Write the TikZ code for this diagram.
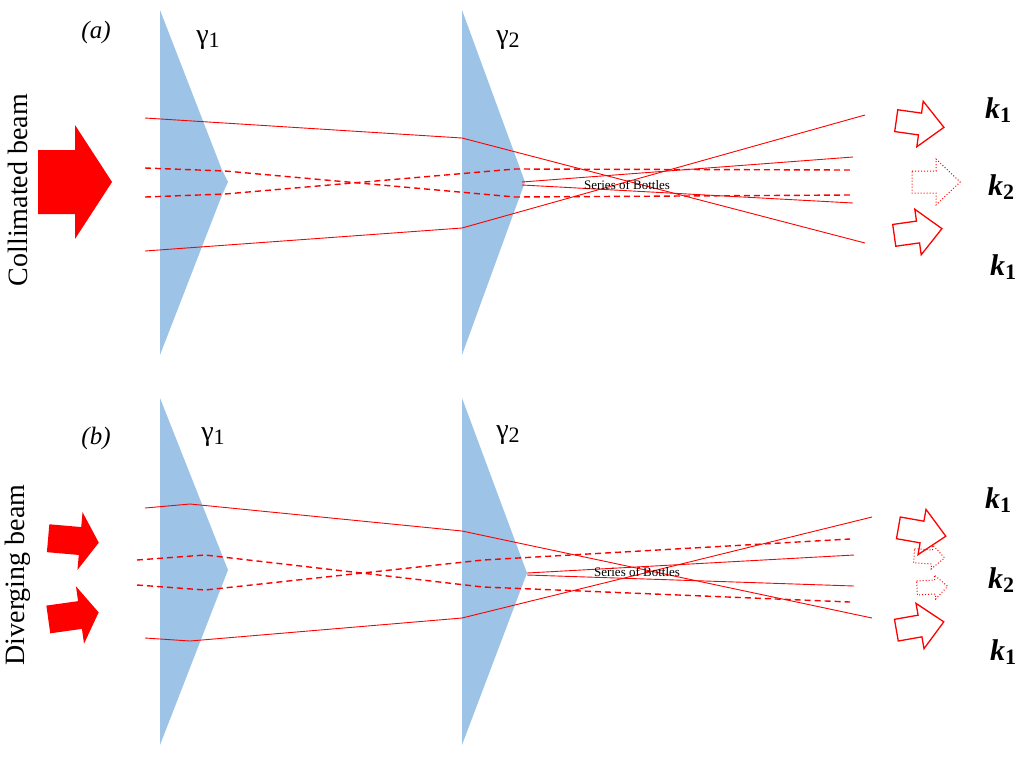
\documentclass[tikz,border=0pt]{standalone}
\usepackage{fontspec}
\setmainfont{Liberation Serif}
\definecolor{prism}{RGB}{157,195,230}
\newcommand\fillarrow[6]{% x y angle shaftlen shafthalf headhalf
  \begin{scope}[shift={(#1,#2)},rotate=#3]
  \fill[red] (-#4,-#5)--(0,-#5)--(0,-#6)--(#6*0.65,0)--(0,#6)--(0,#5)--(-#4,#5)--cycle;
  \end{scope}}
\newcommand\hollowarrow[7]{% x y angle shaftlen shafthalf headhalf style
  \begin{scope}[shift={(#1,#2)},rotate=#3]
  \draw[red,#7] (-#4,-#5)--(0,-#5)--(0,-#6)--(#6*1.05,0)--(0,#6)--(0,#5)--(-#4,#5)--cycle;
  \end{scope}}
\tikzset{ray/.style={red,line width=0.9pt},
  dray/.style={red,line width=1.4pt,dash pattern=on 6pt off 4pt},
  lbl/.style={font=\fontsize{28}{30}\selectfont,rotate=90},
  gam/.style={font=\fontsize{28}{30}\selectfont},
  kl/.style={font=\fontsize{30}{32}\selectfont\bfseries\itshape},
  sob/.style={font=\fontsize{13}{14}\selectfont}}
\newcommand\subn[1]{\raisebox{-0.3ex}{\fontsize{22}{24}\selectfont #1}}
\begin{document}
\begin{tikzpicture}[x=1pt,y=-1pt]
\useasboundingbox (0,0) rectangle (1016,756);
% panel a prisms
\fill[prism] (160,10)--(222,170)--(228,182)--(222,195)--(160,355)--cycle;
\fill[prism] (462,10)--(525,182)--(462,355)--cycle;
% panel b prisms
\fill[prism] (160,398)--(228,570)--(160,745)--cycle;
\fill[prism] (462,398)--(527,573)--(462,745)--cycle;
% rays a
\draw[ray] (145,118)--(462,138)--(865,243);
\draw[ray] (145,251)--(462,228)--(865,115);
\draw[ray] (522,182)--(853,157);
\draw[ray] (522,185)--(853,203);
\draw[dray] (145,168)--(225,171)--(515,197)--(850,195);
\draw[dray] (145,197)--(225,194)--(515,169)--(850,170);
% rays b
\draw[ray] (145,508)--(190,504)--(462,531)--(872,618);
\draw[ray] (145,638)--(190,641)--(462,618)--(872,517);
\draw[ray] (527,573)--(854,555);
\draw[ray] (527,575)--(854,586);
\draw[dray] (137,560)--(205,555)--(483,587)--(850,602);
\draw[dray] (137,585)--(205,590)--(483,560)--(850,539);
% left arrows
\fillarrow{75}{182}{0}{37}{32}{57}
\fillarrow{80}{541}{-5}{32}{14}{29}
\fillarrow{80}{615}{8}{32}{14}{29}
% right arrows a
\hollowarrow{920}{124}{-8}{24}{11}{23}{line width=1.3pt}
\hollowarrow{936}{182}{0}{24}{11}{23}{dotted,line width=1pt}
\hollowarrow{918}{232}{8}{24}{11}{23}{line width=1.3pt}
% right arrows b
\hollowarrow{922}{532}{-10}{24}{11}{23}{line width=1.3pt}
\hollowarrow{932}{557}{-4}{18}{7}{12}{dotted,line width=1pt}
\hollowarrow{935}{587}{3}{18}{7}{12}{dotted,line width=1pt}
\hollowarrow{920}{626}{10}{24}{11}{23}{line width=1.3pt}
% texts
\node[lbl] (ta) at (18,190) {Collimated beam};
\node[lbl] (tb) at (18,575) {Diverging beam};
\node[font=\fontsize{25}{27}\selectfont\itshape] (pa) at (96,32) {(\textit{a})};
\node[font=\fontsize{25}{27}\selectfont\itshape] (pb) at (96,438) {(\textit{b})};
\node[gam] (g1a) at (208,40) {γ\subn{1}};
\node[gam] (g2a) at (508,40) {γ\subn{2}};
\node[gam] (g1b) at (213,437) {γ\subn{1}};
\node[gam] (g2b) at (508,435) {γ\subn{2}};
\node[kl] (k1a) at (998,110) {k\subn{\bfseries\upshape 1}};
\node[kl] (k2a) at (1001,187) {k\subn{\bfseries\upshape 2}};
\node[kl] (k3a) at (1003,267) {k\subn{\bfseries\upshape 1}};
\node[kl] (k1b) at (998,500) {k\subn{\bfseries\upshape 1}};
\node[kl] (k2b) at (1001,580) {k\subn{\bfseries\upshape 2}};
\node[kl] (k3b) at (1003,652) {k\subn{\bfseries\upshape 1}};
\node[sob] (sa) at (627,185) {Series of Bottles};
\node[sob] (sb) at (637,572) {Series of Bottles};
\end{tikzpicture}
\end{document}
